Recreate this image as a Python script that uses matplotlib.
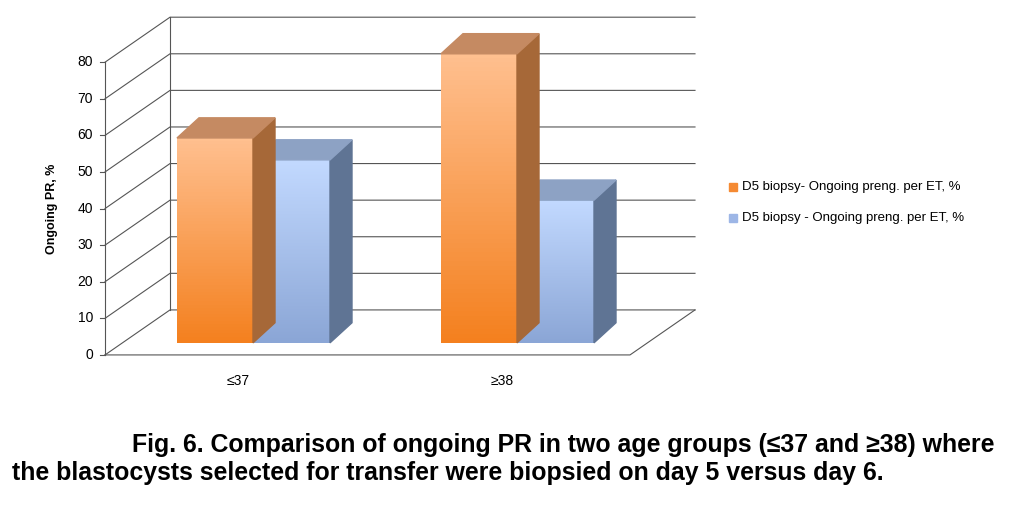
import numpy as np
import matplotlib
matplotlib.use("Agg")
import matplotlib.pyplot as plt
from matplotlib.patches import Polygon

categories = ["≤37", "≥38"]
d5_values = [56, 79]
d6_values = [50, 39]
series_names = ["D5 biopsy- Ongoing preng. per ET, %", "D5 biopsy - Ongoing preng. per ET, %"]
y_ticks = [0, 10, 20, 30, 40, 50, 60, 70, 80]

fig = plt.figure(figsize=(10.24, 5.13), dpi=100)
ax = fig.add_axes([0, 0, 1, 1])
ax.set_xlim(0, 1024)
ax.set_ylim(-43.2, 97)
ax.axis("off")

gc = "#555555"
wx, wy = 65, 12.3          # depth of the chart box
x0, x1 = 105, 630          # front plane

# back wall grid + left wall
for v in y_ticks:
    ax.plot([x0, x0 + wx, x1 + wx], [v, v + wy, v + wy], color=gc, lw=0.8)
    ax.plot([x0 - 5, x0], [v, v], color=gc, lw=0.8)
    ax.text(x0 - 12, v, str(v), ha="right", va="center", fontsize=10, family="Liberation Sans")
ax.plot([x0, x0], [0, 80], color=gc, lw=0.8)
ax.plot([x0 + wx, x0 + wx], [wy, 80 + wy], color=gc, lw=0.8)
ax.plot([x0, x1, x1 + wx], [0, 0, wy], color=gc, lw=0.8)

def grad(c_top, c_bot, n=64):
    t = np.linspace(0, 1, n)[:, None]
    a = np.array(matplotlib.colors.to_rgb(c_top)); b = np.array(matplotlib.colors.to_rgb(c_bot))
    return (a * (1 - t) + b * t)[:, None, :]

bw, bdx, bdy, base = 76, 22, 5.5, 3.3
def bar3d(xl, h, top, bot, side, cap):
    xb = xl
    ax.imshow(grad(top, bot), extent=[xb, xb + bw, base, base + h], aspect="auto", zorder=3)
    ax.add_patch(Polygon([[xb + bw, base], [xb + bw + bdx, base + bdy], [xb + bw + bdx, base + h + bdy],
                          [xb + bw, base + h]], color=side, zorder=3))
    ax.add_patch(Polygon([[xb, base + h], [xb + bdx, base + h + bdy], [xb + bw + bdx, base + h + bdy],
                          [xb + bw, base + h]], color=cap, zorder=3))

centers = [253, 517]
for c, a, b in zip(centers, d5_values, d6_values):
    bar3d(c + 1, b, "#C2D9FF", "#8BA6D6", "#5F7494", "#8DA2C4")
    bar3d(c - bw, a, "#FFC08F", "#F4801F", "#A66838", "#C58A62")
for c, lab in zip(centers, categories):
    ax.text(c - 15, -7, lab, ha="center", va="center", fontsize=10, family="Liberation Sans")

ax.text(52, 40, "Ongoing PR, %", rotation=90, ha="center", va="center", fontsize=9, fontweight="bold",
        family="Liberation Sans")

for yy, name, col in zip([46, 37.3], series_names, ["#F58A33", "#9DB6E6"]):
    ax.add_patch(plt.Rectangle((729, yy - 1.1), 8, 2.2, color=col))
    ax.text(742, yy, name, va="center", fontsize=9.5, family="Liberation Sans")

ax.text(995, -24.6, "Fig. 6. Comparison of ongoing PR in two age groups (≤37 and ≥38) where",
        ha="right", va="center", fontsize=17.9, fontweight="bold", family="Liberation Sans")
ax.text(12, -32.2, "the blastocysts selected for transfer were biopsied on day 5 versus day 6.",
        ha="left", va="center", fontsize=17.9, fontweight="bold", family="Liberation Sans")

fig.savefig("out.png", dpi=100)
